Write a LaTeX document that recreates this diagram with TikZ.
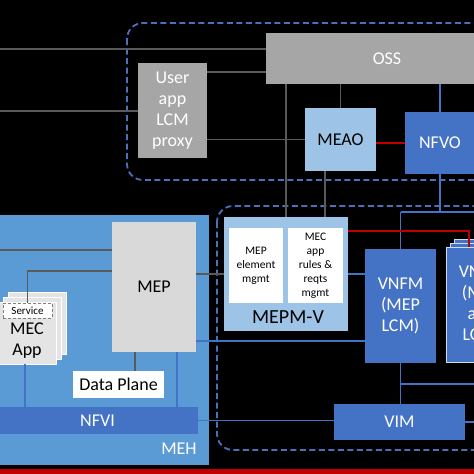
\documentclass[tikz,border=0pt]{standalone}
\usepackage{fontspec}
\setmainfont{Carlito}
\usetikzlibrary{calc}

\definecolor{mehblue}{HTML}{5B9BD5}
\definecolor{midblue}{HTML}{4472C4}
\definecolor{paleblue}{HTML}{9DC3E6}
\definecolor{ossgray}{HTML}{A6A6A6}
\definecolor{mepgray}{HTML}{D9D9D9}
\definecolor{appgray}{HTML}{E4E4E4}
\definecolor{linegray}{HTML}{5A5A5A}
\definecolor{frameblue}{HTML}{4D70BA}
\definecolor{darkred}{HTML}{C00000}

\begin{document}
\begin{tikzpicture}[
    x=1pt,y=-1pt,
    box/.style={inner sep=0pt,outer sep=0pt,align=center,font=\lblfont},
    ossbox/.style={box,fill=ossgray,text=white},
    palebox/.style={box,fill=paleblue,text=black},
    midbox/.style={box,fill=midblue,text=white},
    whitebox/.style={box,fill=white,text=black,font=\smlfont},
    appbox/.style={box,fill=appgray,draw=white,line width=0.6},
    stackbox/.style={midbox,draw=white!75!midblue,line width=0.8},
    frame/.style={draw=frameblue,line width=1.8,dash pattern=on 6pt off 3.5pt,rounded corners=16},
    gline/.style={draw=linegray,line width=1.6},
    bline/.style={draw=midblue,line width=1.6},
    rline/.style={draw=darkred,line width=1.8}
    ]
% MEC IN NFV REFERENCE ARCHITECTURE
\def\lblfont{\fontsize{18}{21}\selectfont}  % box labels
\def\smlfont{\fontsize{11.5}{14}\selectfont} % small labels

    % BACKGROUND
    \fill[black] (0,0) rectangle (474,474);
    \useasboundingbox (0,0) rectangle (474,474);
    \clip (0,0) rectangle (474,474);

    % MEH HOST
    \node[box,fill=mehblue,minimum width=219,minimum height=250] (meh) at (99.5,340) {};
    \node[box,text=white] (mehlbl) at (179,449) {MEH};

    % DASHED FRAMES
    \draw[frame] (127,23) rectangle (540,180);  % orchestration level
    \draw[frame] (217,206) rectangle (540,450); % management level
    \fill[darkred] (0,469) rectangle (474,474);

    % SYSTEM LEVEL
    \node[ossbox,minimum width=242,minimum height=51] (oss) at (387,58.5) {OSS};
    \node[ossbox,minimum width=69,minimum height=95] (user) at (172.5,110.5) {User\\app\\LCM\\proxy};
    \node[palebox,minimum width=71,minimum height=63] (meao) at (340.5,139.5) {MEAO};
    \node[midbox,minimum width=70,minimum height=62] (nfvo) at (440,143) {NFVO};

    % HOST LEVEL
    \node[box,fill=mepgray,text=black,minimum width=84,minimum height=130] (mep) at (154,287) {MEP};
    \node[box,fill=white,text=black,minimum width=91,minimum height=27] (dp) at (118.5,384.5) {Data Plane};
    \node[midbox,minimum width=201,minimum height=27] (nfvi) at (97.5,420.5) {NFVI};
    \node[appbox,minimum width=58,minimum height=62] (app3) at (37,323) {};
    \node[appbox,minimum width=58,minimum height=62] (app2) at (32,328) {};
    \node[appbox,minimum width=58,minimum height=62] (app) at (27,333) {};
    \node[box,fill=white,draw=gray,densely dashed,line width=0.5,font=\fontsize{11}{13}\selectfont,
          minimum width=49,minimum height=15] (service) at (27.5,310.5) {Service};
    \node[box,text=black] (apptxt) at (27,340.5) {MEC\\App};

    % MANAGEMENT LEVEL
    \node[palebox,minimum width=124,minimum height=114] (mepmv) at (286,274) {};
    \node[box,text=black,font=\fontsize{20}{24}\selectfont] (mepmvlbl) at (288,317) {MEPM-V};
    \node[whitebox,minimum width=54,minimum height=75] (elem) at (256,265.5) {MEP\\element\\mgmt};
    \node[whitebox,minimum width=55,minimum height=75] (rules) at (315.5,265.5) {MEC\\app\\rules \&\\reqts\\mgmt};
    \node[midbox,minimum width=71,minimum height=114] (vnfm) at (400.5,306) {VNFM\\(MEP\\LCM)};
    \node[stackbox,minimum width=71,minimum height=115] (vnfmapp3) at (489.5,296.5) {};
    \node[stackbox,minimum width=71,minimum height=115] (vnfmapp2) at (485.5,300.5) {};
    \node[stackbox,minimum width=71,minimum height=115] (vnfmapp) at (481.5,304.5) {VNFM\\(MEC\\app\\LCM)};
    \node[midbox,minimum width=131,minimum height=36] (vim) at (399.5,422) {VIM};

    % REFERENCE POINTS
    \coordinate (w1) at (-5,49);
    \coordinate (w2) at (-5,111);
    \coordinate (w3) at (-5,250);
    \coordinate (e1) at (540,212);
    \coordinate (e2) at (540,384);
    \coordinate (e3) at (540,422);
    \coordinate (m1) at ($(meao.south)+(-15.5,0)$);
    \coordinate (m2) at (135,0);

    \draw[gline] (w1) -- (w1 -| oss.west);
    \draw[gline] (w2) -- (w2 -| user.west);
    \draw[gline] (user.east |- 0,72) -- (oss.west |- 0,72);
    \draw[gline] (user.east |- meao.west) -- (meao.west);
    \draw[gline] (oss.south -| mepmv.north) -- (mepmv.north);
    \draw[gline] (meao.north |- oss.south) -- (meao.north);
    \draw[gline] (m1) -- (m1 |- mepmv.north);
    \draw[gline] (w3) -- (w3 -| mep.west);
    \draw[gline] (mep.west |- 0,271) -| (service.north);
    \draw[gline] (mep.east |- mepmv.west) -- (mepmv.west);
    \draw[gline] (mep.south -| m2) -- (dp.north -| m2);

    \draw[bline] (nfvo.north |- oss.south) -- (nfvo.north);
    \draw[bline] (nfvo.south) -- (nfvo.south |- e1);
    \draw[bline] (vnfm.north |- e1) -- (e1);
    \draw[bline] (vnfm.north |- e1) -- (vnfm.north);
    \draw[bline] (mepmv.east) -- (mepmv.east -| vnfm.west);
    \draw[bline] (mep.east |- 0,341) -- (vnfm.west |- 0,341);
    \draw[bline] (app.south -| 25,0) -- (nfvi.north -| 25,0);
    \draw[bline] (mep.south -| 177,0) -- (nfvi.north -| 177,0);
    \draw[bline] (nfvi.east) -- (nfvi.east -| vim.west);
    \draw[bline] (vnfm.south) -- (vnfm.south |- vim.north);
    \draw[bline] (vnfm.south |- e2) -- (e2);
    \draw[bline] (vim.east) -- (e3);

    \draw[rline] (meao.east |- nfvo.west) -- (nfvo.west);
    \draw[rline] (mepmv.east |- 0,231) -| ($(vnfmapp.north)+(-12.5,0)$);
\end{tikzpicture}
\end{document}
